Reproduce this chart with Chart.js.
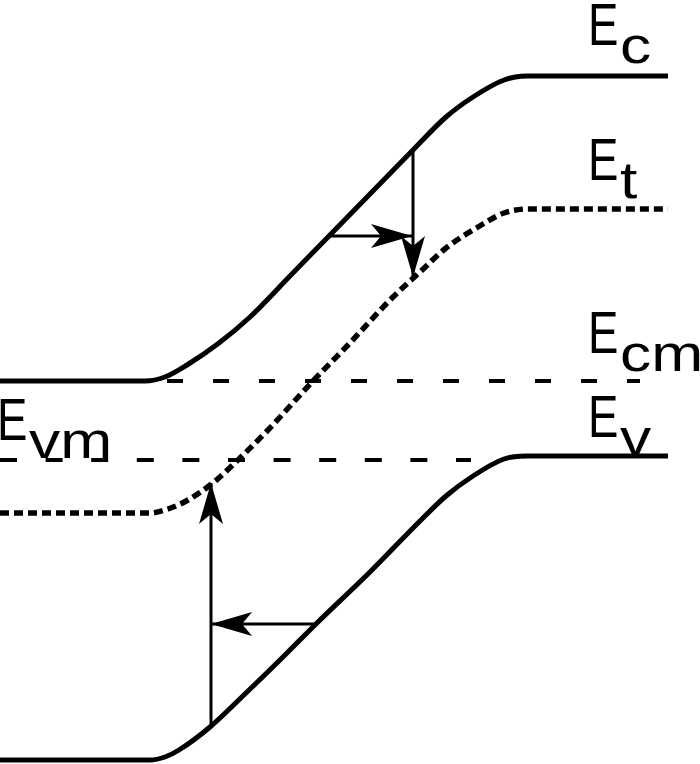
<!DOCTYPE html>
<html>
<head>
<meta charset="utf-8">
<script src="https://cdn.jsdelivr.net/npm/chart.js@4"></script>
<style>
html,body{margin:0;padding:0;background:#fff;}
#wrap{width:700px;height:764px;position:relative;}
</style>
</head>
<body>
<div id="wrap"><canvas id="c"></canvas></div>
<script>
// Position (arbitrary units, left -> right) and energy (arbitrary units, bottom -> top)
const ecX = [0, 145, 165, 187, 219, 250, 290, 330, 371, 413, 446, 473, 504, 527, 668];
const ecE = [383, 383, 387, 399, 421, 447, 488, 529, 571, 614, 647, 667, 684, 688, 688];

const etX = [0, 150, 168, 188, 214, 241, 268, 312, 348, 393, 420, 446, 478, 504, 527, 668];
const etE = [251, 251, 255, 264, 282, 307, 334, 382, 419, 467, 492, 516, 537, 551, 555, 555];

const evX = [0, 150, 165, 179, 210, 246, 282, 317, 371, 420, 446, 473, 504, 527, 668];
const evE = [4, 4, 7, 14, 37, 71, 106, 141, 193, 243, 268, 288, 305, 308, 308];

const ecmX = [167, 640];
const ecmE = [383, 383];
const evmX = [0, 471];
const evmE = [304, 304];

// transitions: start and end points
const arrowFrom = [[413, 614], [330, 528], [211, 39], [317, 140]];
const arrowTo   = [[413, 487], [412, 528], [211, 281], [211, 140]];

// band labels
const labelMain = ['E', 'E', 'E', 'E', 'E'];
const labelSub  = ['c', 't', 'cm', 'v', 'vm'];
const labelX    = [591, 591, 591, 591, 0];
const labelE    = [719, 584, 411, 327, 324];

function pts(xs, ys) { return xs.map((x, i) => ({x: x, y: ys[i]})); }

const datasets = [
  {data: pts(ecX, ecE), borderColor: '#000', borderWidth: 5, cubicInterpolationMode: 'monotone'},
  {data: pts(etX, etE), borderColor: '#000', borderWidth: 5.5, borderDash: [9, 5], cubicInterpolationMode: 'monotone'},
  {data: pts(evX, evE), borderColor: '#000', borderWidth: 5, cubicInterpolationMode: 'monotone'},
  {data: pts(ecmX, ecmE), borderColor: '#000', borderWidth: 4, borderDash: [16, 30]},
  {data: pts(evmX, evmE), borderColor: '#000', borderWidth: 4, borderDash: [17, 28.6]}
];
arrowFrom.forEach((f, i) => {
  datasets.push({data: [{x: f[0], y: f[1]}, {x: arrowTo[i][0], y: arrowTo[i][1]}],
    borderColor: '#000', borderWidth: 3, isArrow: true});
});
datasets.forEach(d => { d.showLine = true; d.pointRadius = 0; d.pointHoverRadius = 0; d.fill = false; d.clip = false; d.borderCapStyle = 'butt'; });

const arrowPlugin = {
  id: 'arrows',
  afterDatasetsDraw(chart) {
    const ctx = chart.ctx;
    chart.data.datasets.forEach((ds, i) => {
      if (!ds.isArrow) return;
      const meta = chart.getDatasetMeta(i);
      const p0 = meta.data[0], p1 = meta.data[meta.data.length - 1];
      const a = Math.atan2(p1.y - p0.y, p1.x - p0.x);
      ctx.save();
      ctx.translate(p1.x, p1.y);
      ctx.rotate(a);
      ctx.beginPath();
      ctx.moveTo(0, 0);
      ctx.lineTo(-41, -12);
      ctx.lineTo(-31, 0);
      ctx.lineTo(-41, 12);
      ctx.closePath();
      ctx.fillStyle = '#000';
      ctx.fill();
      ctx.restore();
    });
  }
};

const labelPlugin = {
  id: 'bandLabels',
  afterDatasetsDraw(chart) {
    const ctx = chart.ctx;
    const xs = chart.scales.x, ys = chart.scales.y;
    ctx.save();
    ctx.fillStyle = '#000';
    ctx.textBaseline = 'alphabetic';
    ctx.textAlign = 'left';
    labelMain.forEach((m, i) => {
      const px = xs.getPixelForValue(labelX[i]);
      const py = ys.getPixelForValue(labelE[i]);
      ctx.save();
      ctx.translate(px - 3, py);
      ctx.scale(0.76, 1);
      ctx.font = '60px "Liberation Sans", Arial, sans-serif';
      ctx.fillText(m, 0, 0);
      ctx.restore();
      ctx.save();
      ctx.translate(px + 29, py + 18);
      ctx.scale(1.2, 1);
      ctx.font = '52px "Liberation Sans", Arial, sans-serif';
      ctx.fillText(labelSub[i], 0, 0);
      ctx.restore();
    });
    ctx.restore();
  }
};

new Chart(document.getElementById('c'), {
  type: 'scatter',
  data: {datasets: datasets},
  options: {
    responsive: true,
    maintainAspectRatio: false,
    animation: false,
    events: [],
    layout: {padding: 0},
    plugins: {legend: {display: false}, tooltip: {enabled: false}},
    scales: {
      x: {type: 'linear', min: 0, max: 700, display: false},
      y: {type: 'linear', min: 0, max: 764, display: false}
    }
  },
  plugins: [arrowPlugin, labelPlugin]
});
</script>
</body>
</html>
